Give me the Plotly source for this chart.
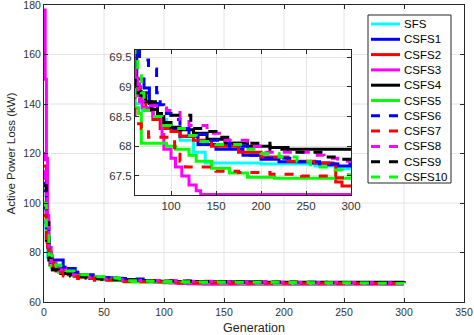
import plotly.graph_objects as go

# ---------------- data (best-so-far active power loss, kW) ----------------
series_names = ["SFS", "CSFS1", "CSFS2", "CSFS3", "CSFS4", "CSFS5",
                "CSFS6", "CSFS7", "CSFS8", "CSFS9", "CSFS10"]

gen_sfs = [0, 2, 3, 5, 8, 14, 22, 32, 45, 55, 60, 68, 80, 95, 110, 125, 138, 200, 260, 285, 300]
loss_sfs = [92, 84, 78, 75, 73.5, 72, 71, 70, 69.3, 68.9, 68.72, 68.6, 68.45, 68.3, 68.1, 67.9, 67.72, 67.7, 67.67, 67.62, 67.6]

gen_csfs1 = [0, 2, 4, 6, 16, 26, 41, 50, 60, 62, 70, 76, 85, 90, 110, 130, 150, 180, 200, 220, 255, 275, 285, 300]
loss_csfs1 = [108, 90, 80, 77, 73.5, 71, 70, 69.8, 69.6, 69.13, 68.98, 68.72, 68.5, 68.3, 68.17, 68.03, 67.95, 67.85, 67.78, 67.74, 67.72, 67.69, 67.67, 67.67]

gen_csfs2 = [0, 2, 3, 5, 10, 20, 30, 45, 60, 66, 72, 80, 88, 100, 110, 125, 145, 175, 200, 230, 260, 280, 283, 290, 300]
loss_csfs2 = [115, 92, 82, 75, 72.5, 71, 70, 69.3, 69.0, 68.85, 68.6, 68.45, 68.3, 68.25, 68.17, 68.1, 68.0, 67.9, 67.82, 67.75, 67.72, 67.7, 67.4, 67.33, 67.33]

gen_csfs3 = [0, 1, 2, 3, 4, 6, 10, 18, 28, 40, 52, 60, 63, 68, 80, 90, 92, 100, 105, 112, 120, 128, 133, 300]
loss_csfs3 = [178, 150, 118, 95, 82, 76, 74, 72, 70.5, 69.7, 69.3, 69.15, 68.85, 68.65, 68.5, 68.2, 67.95, 67.8, 67.65, 67.5, 67.35, 67.25, 67.19, 67.19]

gen_csfs4 = [0, 2, 4, 7, 14, 25, 38, 50, 60, 66, 72, 78, 85, 92, 100, 110, 125, 140, 160, 185, 210, 230, 300]
loss_csfs4 = [98, 85, 77, 73, 71.5, 70.5, 69.6, 69.1, 68.9, 68.85, 68.75, 68.62, 68.5, 68.4, 68.32, 68.28, 68.22, 68.12, 68.05, 68.0, 67.98, 67.95, 67.95]

gen_csfs5 = [0, 2, 4, 6, 12, 22, 35, 48, 60, 64, 67, 95, 105, 120, 128, 145, 165, 185, 215, 300]
loss_csfs5 = [100, 86, 78, 74, 72, 70.8, 69.8, 69.0, 68.65, 68.55, 68.05, 68.0, 67.95, 67.85, 67.75, 67.63, 67.55, 67.48, 67.46, 67.46]

gen_csfs6 = [0, 2, 4, 6, 12, 20, 30, 45, 60, 65, 75, 84, 88, 92, 100, 110, 120, 140, 165, 185, 205, 240, 265, 300]
loss_csfs6 = [105, 90, 80, 76, 74, 72, 70.5, 69.9, 69.62, 69.45, 69.3, 68.9, 68.7, 68.55, 68.45, 68.3, 68.2, 68.1, 68.0, 67.85, 67.8, 67.74, 67.7, 67.68]

gen_csfs7 = [0, 2, 4, 8, 16, 28, 42, 60, 67, 75, 104, 110, 116, 150, 175, 210, 245, 275, 300]
loss_csfs7 = [95, 85, 76, 72, 70.5, 69.5, 68.8, 68.38, 68.3, 68.15, 67.95, 67.75, 67.65, 67.58, 67.56, 67.53, 67.5, 67.47, 67.45]

gen_csfs8 = [0, 1, 2, 4, 6, 12, 22, 35, 50, 60, 65, 70, 95, 110, 120, 140, 160, 185, 205, 255, 270, 285, 300]
loss_csfs8 = [120, 110, 95, 80, 75, 73, 71, 70, 69.3, 69.05, 68.75, 68.68, 68.6, 68.45, 68.35, 68.22, 68.1, 68.0, 67.9, 67.85, 67.8, 67.75, 67.74]

gen_csfs9 = [0, 2, 4, 7, 12, 22, 35, 48, 60, 67, 75, 85, 100, 122, 140, 150, 165, 210, 235, 270, 285, 300]
loss_csfs9 = [107, 92, 78, 73, 71.5, 70.5, 69.7, 69.2, 69.0, 68.9, 68.75, 68.55, 68.52, 68.3, 68.25, 68.15, 68.05, 67.95, 67.9, 67.82, 67.78, 67.77]

gen_csfs10 = [0, 2, 4, 7, 14, 25, 40, 52, 60, 63, 67, 70, 80, 90, 100, 115, 128, 150, 180, 200, 220, 240, 255, 275, 290, 300]
loss_csfs10 = [100, 88, 79, 75, 72.5, 71, 70.2, 69.8, 69.55, 69.3, 68.9, 68.6, 68.5, 68.35, 68.3, 68.18, 68.08, 68.03, 67.95, 67.88, 67.82, 67.75, 67.65, 67.6, 67.52, 67.5]

main_x_ticks = [0, 50, 100, 150, 200, 250, 300, 350]
main_y_ticks = [60, 80, 100, 120, 140, 160, 180]
inset_x_ticks = [100, 150, 200, 250, 300]
inset_y_ticks = [67.5, 68, 68.5, 69, 69.5]

# ---------------- styles ----------------
all_gens = [gen_sfs, gen_csfs1, gen_csfs2, gen_csfs3, gen_csfs4, gen_csfs5,
            gen_csfs6, gen_csfs7, gen_csfs8, gen_csfs9, gen_csfs10]
all_losses = [loss_sfs, loss_csfs1, loss_csfs2, loss_csfs3, loss_csfs4, loss_csfs5,
              loss_csfs6, loss_csfs7, loss_csfs8, loss_csfs9, loss_csfs10]
colors = ["#00FFFF", "#0000FF", "#FF0000", "#FF00FF", "#000000", "#00FF00",
          "#0000FF", "#FF0000", "#FF00FF", "#000000", "#00FF00"]
dashes = ["solid"] * 6 + ["dash"] * 5

FONT = "Liberation Sans, Arial, sans-serif"
GRID = "#e4e4e4"
W, H = 474, 335
L, R, T, B = 44, 10, 5, 33
PW, PH = W - L - R, H - T - B


def px_x(px):
    return (px - L) / PW


def px_y(py):
    return (H - B - py) / PH


fig = go.Figure()

for axes in (("x", "y"), ("x2", "y2")):
    for name, g, v, c, d in zip(series_names, all_gens, all_losses, colors, dashes):
        fig.add_trace(go.Scatter(
            x=g, y=v, mode="lines", name=name, showlegend=False,
            xaxis=axes[0], yaxis=axes[1],
            line=dict(color=c, width=3, dash=d, shape="hv"),
            hoverinfo="skip"))

axis_common = dict(
    showline=True, linecolor="#262626", linewidth=1, mirror="ticks",
    ticks="inside", ticklen=4, tickcolor="#262626",
    zeroline=False, ticklabeloverflow="allow", automargin=False,
)

# inset domain (in pixels: x 135..351, y 50..195)
ix0, ix1 = px_x(135), px_x(351)
iy0, iy1 = px_y(195), px_y(50)

shapes = []
# main-grid lines drawn as background shapes so the inset can cover them
for xv in main_x_ticks[1:-1]:
    shapes.append(dict(type="line", xref="x", yref="paper", x0=xv, x1=xv, y0=0, y1=1,
                       line=dict(color=GRID, width=1), layer="below"))
for yv in main_y_ticks[1:-1]:
    shapes.append(dict(type="line", xref="paper", yref="y", x0=0, x1=1, y0=yv, y1=yv,
                       line=dict(color=GRID, width=1), layer="below"))
# white background of the inset
shapes.append(dict(type="rect", xref="paper", yref="paper",
                   x0=ix0, x1=ix1, y0=iy0, y1=iy1,
                   fillcolor="white", line=dict(width=0), layer="below"))
# legend box
shapes.append(dict(type="rect", xref="paper", yref="paper",
                   x0=px_x(368), x1=px_x(451), y0=px_y(183), y1=px_y(15),
                   fillcolor="white", line=dict(color="#262626", width=1), layer="above"))
annotations = []
for i, (name, c, d) in enumerate(zip(series_names, colors, dashes)):
    yc = 24 + 15.3 * i
    shapes.append(dict(type="line", xref="paper", yref="paper",
                       x0=px_x(371), x1=px_x(400), y0=px_y(yc), y1=px_y(yc),
                       line=dict(color=c, width=3, dash=d), layer="above"))
    annotations.append(dict(xref="paper", yref="paper", x=px_x(402), y=px_y(yc),
                            text=name, showarrow=False, xanchor="left", yanchor="middle",
                            font=dict(family=FONT, size=11.5, color="#000000")))

fig.update_layout(
    width=W, height=H,
    margin=dict(l=L, r=R, t=T, b=B, pad=0),
    paper_bgcolor="white", plot_bgcolor="white",
    font=dict(family=FONT, color="#333333"),
    xaxis=dict(domain=[0, 1], range=[0, 350], tickvals=main_x_ticks, showgrid=False,
               tickfont=dict(size=10.5, color="#333333"),
               title=dict(text="Generation", font=dict(size=12.5, color="#262626"), standoff=9),
               **axis_common),
    yaxis=dict(domain=[0, 1], range=[60, 180], tickvals=main_y_ticks, showgrid=False,
               tickfont=dict(size=10.5, color="#333333"),
               title=dict(text="Active Power Loss (kW)", font=dict(size=11.5, color="#262626"), standoff=5),
               **axis_common),
    xaxis2=dict(domain=[ix0, ix1], range=[60, 300], tickvals=inset_x_ticks, anchor="y2",
                showgrid=True, gridcolor=GRID,
                tickfont=dict(size=11.5, color="#333333"), **axis_common),
    yaxis2=dict(domain=[iy0, iy1], range=[67.18, 69.62], tickvals=inset_y_ticks, anchor="x2",
                showgrid=True, gridcolor=GRID,
                tickfont=dict(size=11.5, color="#333333"), **axis_common),
    shapes=shapes,
    annotations=annotations,
)

fig.write_html("out.html")
